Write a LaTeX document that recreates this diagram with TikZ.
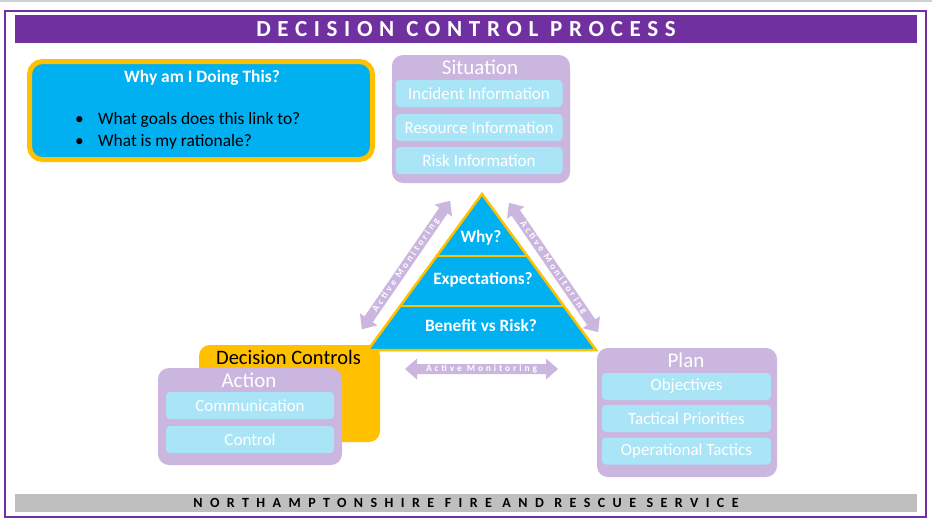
\documentclass[tikz,border=0pt]{standalone}
\usepackage{fontspec}
\setmainfont{Carlito}
\definecolor{purp}{HTML}{7030A0}
\definecolor{lav}{HTML}{CAB6DE}
\definecolor{cyanb}{HTML}{00B0F0}
\definecolor{lcyan}{HTML}{A9E5F7}
\definecolor{gold}{HTML}{FFC000}
\definecolor{footgray}{HTML}{BFBFBF}
\definecolor{topline}{HTML}{C9D2D2}
\newcommand{\fsz}[1]{\fontsize{#1}{#1}\selectfont}
\newcommand{\amarrow}[4]{% cx, cy, angle, length
  \begin{scope}[shift={(#1,#2)}, rotate=#3]
    \fill[lav] (-#4/2,0) -- (-#4/2+12,-10.5) -- (-#4/2+12,-5) -- (#4/2-12,-5) -- (#4/2-12,-10.5)
      -- (#4/2,0) -- (#4/2-12,10.5) -- (#4/2-12,5) -- (-#4/2+12,5) -- (-#4/2+12,10.5) -- cycle;
  \end{scope}}
\tikzset{
  panel/.style={fill=lav, rounded corners=11pt, inner sep=0pt},
  subbox/.style={fill=lcyan, rounded corners=4pt, inner sep=0pt, minimum height=27pt, text=white, font=\fsz{17}},
  paneltitle/.style={text=white, inner sep=0pt, font=\fsz{21}},
  tritext/.style={text=white, inner sep=0pt, font=\fsz{17.3}\bfseries},
  amtext/.style={text=white, inner sep=0pt, font=\fsz{9.5}\bfseries\addfontfeature{LetterSpace=30}},
}
\begin{document}
\begin{tikzpicture}[x=1pt,y=-1pt]
\useasboundingbox (0,0) rectangle (932,525);
\fill[white] (0,0) rectangle (932,525);
\draw[topline, line width=1.5pt] (0,1) -- (932,1);
\draw[purp, line width=2pt] (5,11) rectangle (926,517);
% title
\node (title) [fill=purp, inner sep=0pt, minimum width=902pt, minimum height=28pt, text=white,
  font=\fsz{23}\bfseries\addfontfeature{LetterSpace=29}] at (466,29) {DECISION CONTROL PROCESS};
% footer
\node (foot) [fill=footgray, inner sep=0pt, minimum width=902pt, minimum height=18pt, text=black,
  font=\fsz{14}\bfseries\addfontfeature{LetterSpace=53}] at (466,503) {NORTHAMPTONSHIRE FIRE AND RESCUE SERVICE};
% why box
\node (why) [draw=gold, line width=5pt, fill=cyanb, rounded corners=13pt, minimum width=343pt, minimum height=98pt, inner sep=0pt] at (201,110.5) {};
\node (whyt) [text=white, font=\fsz{17.4}\bfseries, inner sep=0pt] at (202,78) {Why am I Doing This?};
\node (b1) [anchor=west, inner sep=0pt, font=\fsz{17.4}] at (75,120) {\makebox[23pt][l]{\textbullet}What goals does this link to?};
\node (b2) [anchor=west, inner sep=0pt, font=\fsz{17.4}] at (75,142) {\makebox[23pt][l]{\textbullet}What is my rationale?};
% situation
\node (sit) [panel, minimum width=178pt, minimum height=128pt] at (481,119) {};
\node (sitt) [paneltitle] at (480,67) {Situation};
\node (s1) [subbox, minimum width=167pt] at (479,93.5) {Incident Information};
\node (s2) [subbox, minimum width=167pt] at (479,127.5) {Resource Information};
\node (s3) [subbox, minimum width=167pt] at (479,160.5) {Risk Information};
% decision controls
\node (dc) [fill=gold, rounded corners=11pt, minimum width=181pt, minimum height=97pt, inner sep=0pt] at (289.5,393.5) {};
\node (dct) [text=black, inner sep=0pt, font=\fsz{20.5}] at (288.5,357) {Decision Controls};
% action
\node (act) [panel, minimum width=184pt, minimum height=97pt] at (250,416.5) {};
\node (actt) [paneltitle] at (249,380) {Action};
\node (a1) [subbox, minimum width=168pt] at (250,405.5) {Communication};
\node (a2) [subbox, minimum width=168pt] at (250,439.5) {Control};
% plan
\node (plan) [panel, minimum width=180pt, minimum height=129pt] at (687,412.5) {};
\node (plant) [paneltitle] at (686,360) {Plan};
\node (p1) [subbox, minimum width=169pt] at (686.5,386.5) {Objectives};
\node (p2) [subbox, minimum width=169pt] at (686.5,418.5) {Tactical Priorities};
\node (p3) [subbox, minimum width=169pt] at (686.5,451) {Operational Tactics};
% triangle
\coordinate (apex) at (482,194);
\coordinate (bl) at (368,350);
\coordinate (br) at (596,350);
\fill[cyanb] (apex) -- (br) -- (bl) -- cycle;
\draw[gold, line width=2.5pt] (437,256) -- (527,256);
\draw[gold, line width=2.5pt] (400,306) -- (564,306);
\draw[gold, line width=2.5pt, line join=miter] (apex) -- (br) -- (bl) -- cycle;
\node (why2) [tritext] at (481,238) {Why?};
\node (exp) [tritext] at (483,280) {Expectations?};
\node (ben) [tritext] at (481,325) {Benefit vs Risk?};
% active monitoring arrows
\amarrow{406}{265}{55.5}{156}
\node (am1) [amtext, rotate=55.5] at (406,265) {Active Monitoring};
\amarrow{553.5}{267.5}{-55.4}{157}
\node (am2) [amtext, rotate=-55.4] at (553.5,267.5) {Active Monitoring};
\amarrow{481.5}{369}{0}{153}
\node (am3) [amtext] at (481.5,369) {Active Monitoring};
\end{tikzpicture}
\end{document}
